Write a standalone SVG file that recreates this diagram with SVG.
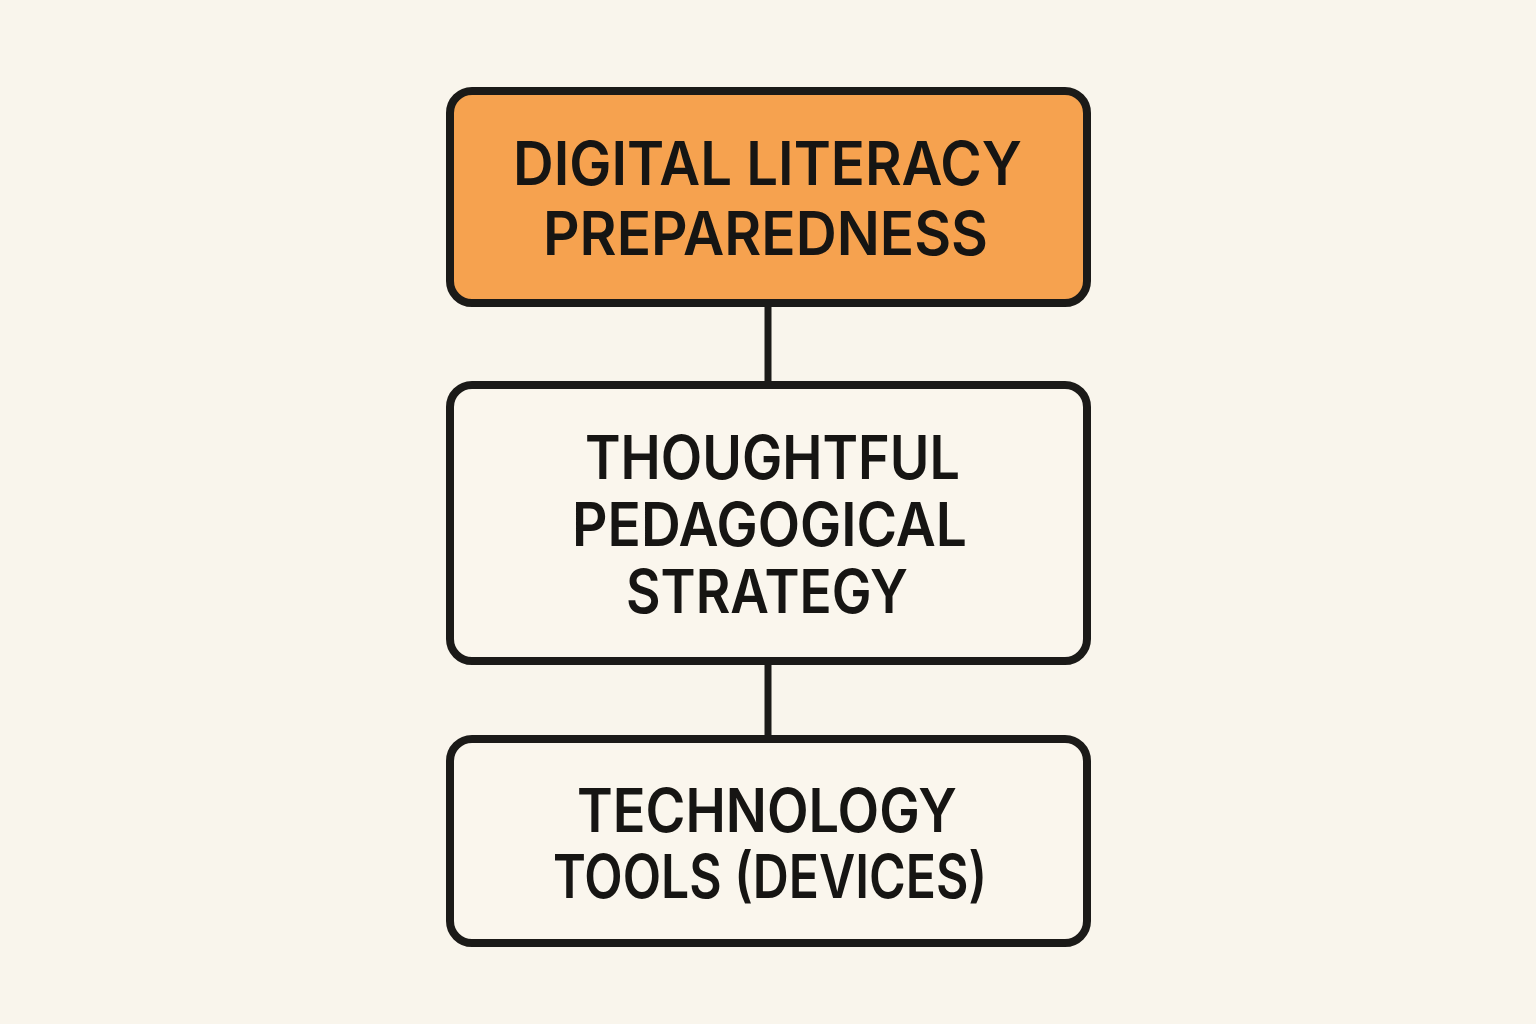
<svg xmlns="http://www.w3.org/2000/svg" width="1536" height="1024" viewBox="0 0 1536 1024">
<defs>
<style>
.box{stroke:#1b1a18;stroke-width:8;}
.top{fill:#f6a24f;}
.plain{fill:#faf6ed;}
.lbl{font-family:Inter,"Liberation Sans","DejaVu Sans",sans-serif;font-weight:600;font-size:60px;fill:#161513;}
.conn{stroke:#1b1a18;stroke-width:7;fill:none;}
</style>
</defs>
<rect x="0" y="0" width="1536" height="1024" fill="#f9f5ec"/>
<g id="connectors">
<line class="conn" x1="768" y1="303" x2="768" y2="386"/>
<line class="conn" x1="768" y1="661" x2="768" y2="739"/>
</g>
<g id="node-digital-literacy">
<rect class="box top" x="450" y="91" width="637" height="212" rx="22"/>
<text class="lbl" x="513" y="185" textLength="509" lengthAdjust="spacingAndGlyphs">DIGITAL LITERACY</text>
<text class="lbl" x="543" y="255" textLength="445" lengthAdjust="spacingAndGlyphs">PREPAREDNESS</text>
</g>
<g id="node-pedagogical-strategy">
<rect class="box plain" x="450" y="385" width="637" height="276" rx="22"/>
<text class="lbl" x="585" y="479" textLength="375" lengthAdjust="spacingAndGlyphs">THOUGHTFUL</text>
<text class="lbl" x="572" y="546" textLength="395" lengthAdjust="spacingAndGlyphs">PEDAGOGICAL</text>
<text class="lbl" x="626" y="613" textLength="282" lengthAdjust="spacingAndGlyphs">STRATEGY</text>
</g>
<g id="node-technology-tools">
<rect class="box plain" x="450" y="739" width="637" height="204" rx="22"/>
<text class="lbl" x="577" y="832" textLength="380" lengthAdjust="spacingAndGlyphs">TECHNOLOGY</text>
<text class="lbl" x="553" y="898" textLength="434" lengthAdjust="spacingAndGlyphs">TOOLS (DEVICES)</text>
</g>
</svg>
